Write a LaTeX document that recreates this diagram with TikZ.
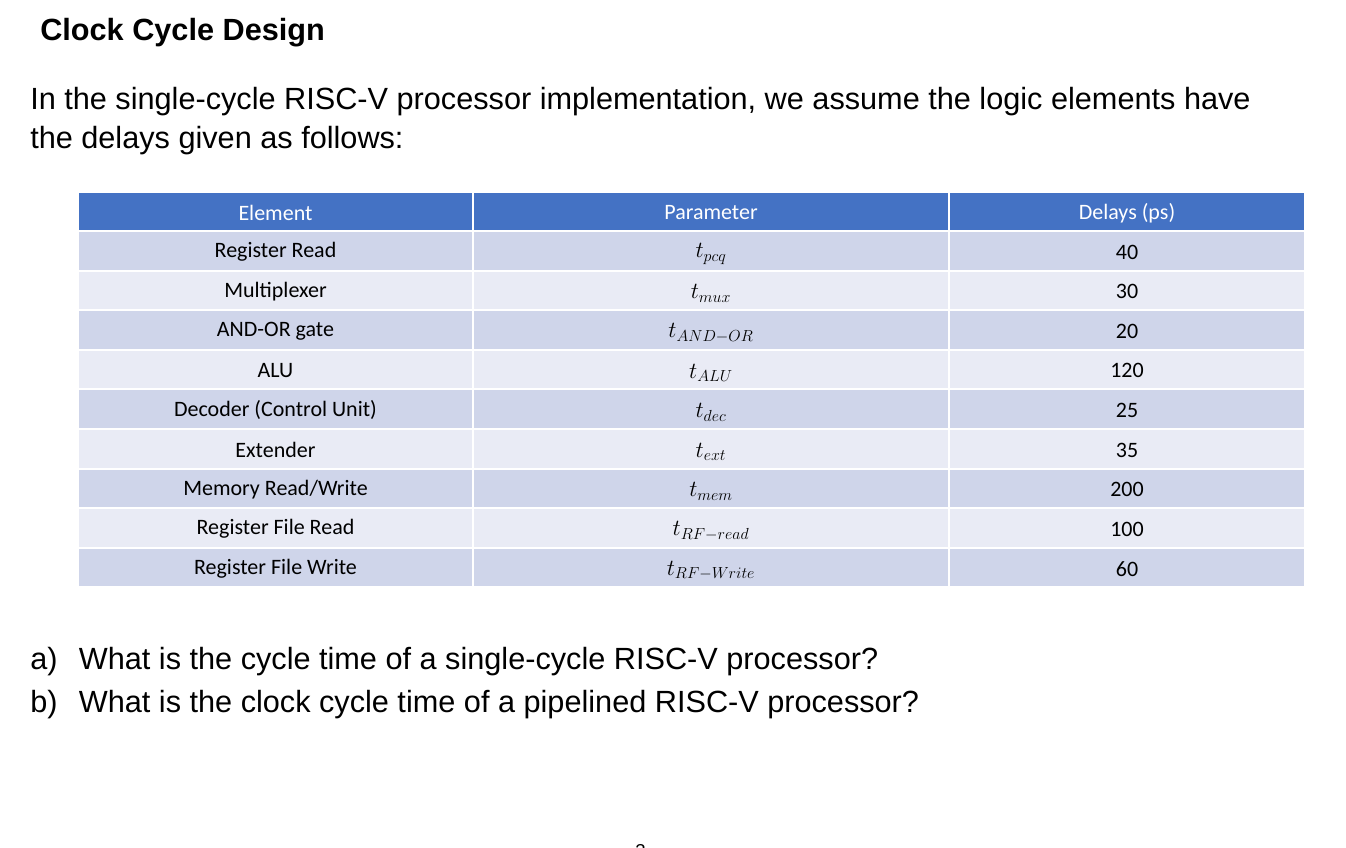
\documentclass[tikz,border=0pt]{standalone}
\usepackage{fontspec}
\setmainfont{Liberation Sans}
\newfontfamily\tabfont{Carlito}
\definecolor{hdr}{HTML}{4472C4}
\definecolor{rowA}{HTML}{CFD5EA}
\definecolor{rowB}{HTML}{E9EBF5}
\begin{document}
\begin{tikzpicture}[x=0.75pt,y=-0.75pt,
  cell/.style={draw=white,line width=1.5pt},
  ttxt/.style={font=\tabfont\fontsize{16.5}{18}\selectfont,anchor=center},
  btxt/.style={font=\fontsize{23}{26}\selectfont,anchor=base west,inner sep=0}]
\clip (0,0) rectangle (1346,848);
\useasboundingbox[fill=white] (0,0) rectangle (1346,848);
\node[btxt,font=\bfseries\fontsize{23}{26}\selectfont] (title) at (40,41) {Clock Cycle Design};
\node[btxt] (p1) at (30,110) {In the single-cycle RISC-V processor implementation, we assume the logic elements have};
\node[btxt] (p2) at (30,149) {the delays given as follows:};
\foreach \l/\r in {78/473,473/949,949/1305}{\fill[hdr,cell] (\l,192) rectangle (\r,231);}
\node[ttxt,text=white] (h1) at (275.5,213) {Element};
\node[ttxt,text=white] (h2) at (711,213) {Parameter};
\node[ttxt,text=white] (h3) at (1127,213) {Delays (ps)};
\foreach \i/\e/\p/\d in {0/{Register Read}/{t_{pcq}}/40,1/{Multiplexer}/{t_{mux}}/30,2/{AND-OR gate}/{t_{AND-OR}}/20,3/{ALU}/{t_{ALU}}/120,4/{Decoder (Control Unit)}/{t_{dec}}/25,5/{Extender}/{t_{ext}}/35,6/{Memory Read/Write}/{t_{mem}}/200,7/{Register File Read}/{t_{RF-read}}/100,8/{Register File Write}/{t_{RF-Write}}/60}{
  \pgfmathsetmacro\yt{231+\i*39.6}
  \pgfmathsetmacro\ym{\yt+21}
  \pgfmathtruncatemacro\odd{mod(\i,2)}
  \ifnum\odd=0 \def\rc{rowA}\else\def\rc{rowB}\fi
  \foreach \l/\r in {78/473,473/949,949/1305}{\fill[\rc,cell] (\l,\yt) rectangle (\r,\yt+39.6);}
  \node[ttxt] (e\i) at (275.5,\ym) {\e};
  \node[ttxt] (m\i) at (711,\ym+2) {\fontsize{17}{18}\selectfont$\p$};
  \node[ttxt] (d\i) at (1127,\ym) {\d};
}
\node[btxt] (qa) at (30,669) {a)\hspace{16pt}What is the cycle time of a single-cycle RISC-V processor?};
\node[btxt] (qb) at (30,712) {b)\hspace{16pt}What is the clock cycle time of a pipelined RISC-V processor?};
\node[btxt,font=\fontsize{14}{16}\selectfont] (pg) at (635,857) {3};
\end{tikzpicture}
\end{document}
